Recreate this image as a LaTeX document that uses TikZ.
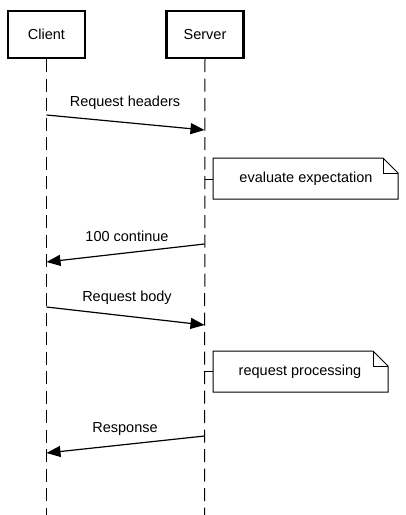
\documentclass[tikz,border=0pt]{standalone}
\usepackage{fontspec}
\setmainfont{Liberation Sans}
\usetikzlibrary{arrows.meta,shapes.misc}
\begin{document}
\begin{tikzpicture}[x=1pt,y=-1pt,
  every node/.style={font=\fontsize{14.5}{17}\selectfont},
  actor/.style={draw,line width=2.3pt,minimum width=77pt,minimum height=47pt,inner sep=0pt},
  lifeline/.style={line width=1pt,dash pattern=on 13pt off 6.5pt},
  msg/.style={line width=1.2pt,-{Triangle[length=14pt,width=11pt]}},
  lbl/.style={inner sep=0pt},
  link/.style={line width=1pt}]
\useasboundingbox (0,0) rectangle (406,515);
% actors
\node[actor] (client) at (46.5,34.5) {Client};
\node[actor] (server) at (205,34.5) {Server};
\coordinate (cend) at (46.5,515);
\coordinate (send) at (204.5,515);
\draw[lifeline] (client.south) -- (cend);
\draw[lifeline] (server.south) -- (send);
% lifeline points
\coordinate (c1) at (46.5,115);
\coordinate (s1) at (204.5,130);
\coordinate (s2) at (204.5,244);
\coordinate (c2) at (46.5,262);
\coordinate (c3) at (46.5,307);
\coordinate (s3) at (204.5,325);
\coordinate (s4) at (204.5,436);
\coordinate (c4) at (46.5,453);
\coordinate (sn1) at (204.5,179);
\coordinate (sn2) at (204.5,371);
% messages
\draw[msg] (c1) -- (s1);
\node[lbl] (l1) at (125,103) {Request headers};
\draw[msg] (s2) -- (c2);
\node[lbl] (l2) at (127,236) {100 continue};
\draw[msg] (c3) -- (s3);
\node[lbl] (l3) at (127,298) {Request body};
\draw[msg] (s4) -- (c4);
\node[lbl] (l4) at (125,429) {Response};
% notes
\draw[line width=1pt] (213,158) -- (383,158) -- (398,173) -- (398,199) -- (213,199) -- cycle;
\draw[line width=1pt] (383,158) -- (383,173) -- (398,173);
\node[lbl] (n1) at (306,179) {evaluate expectation};
\coordinate (n1l) at (213,179);
\draw[link] (sn1) -- (n1l);
\draw[line width=1pt] (213,351) -- (373,351) -- (388,366) -- (388,392) -- (213,392) -- cycle;
\draw[line width=1pt] (373,351) -- (373,366) -- (388,366);
\node[lbl] (n2) at (300,372) {request processing};
\coordinate (n2l) at (213,371);
\draw[link] (sn2) -- (n2l);
\end{tikzpicture}
\end{document}
